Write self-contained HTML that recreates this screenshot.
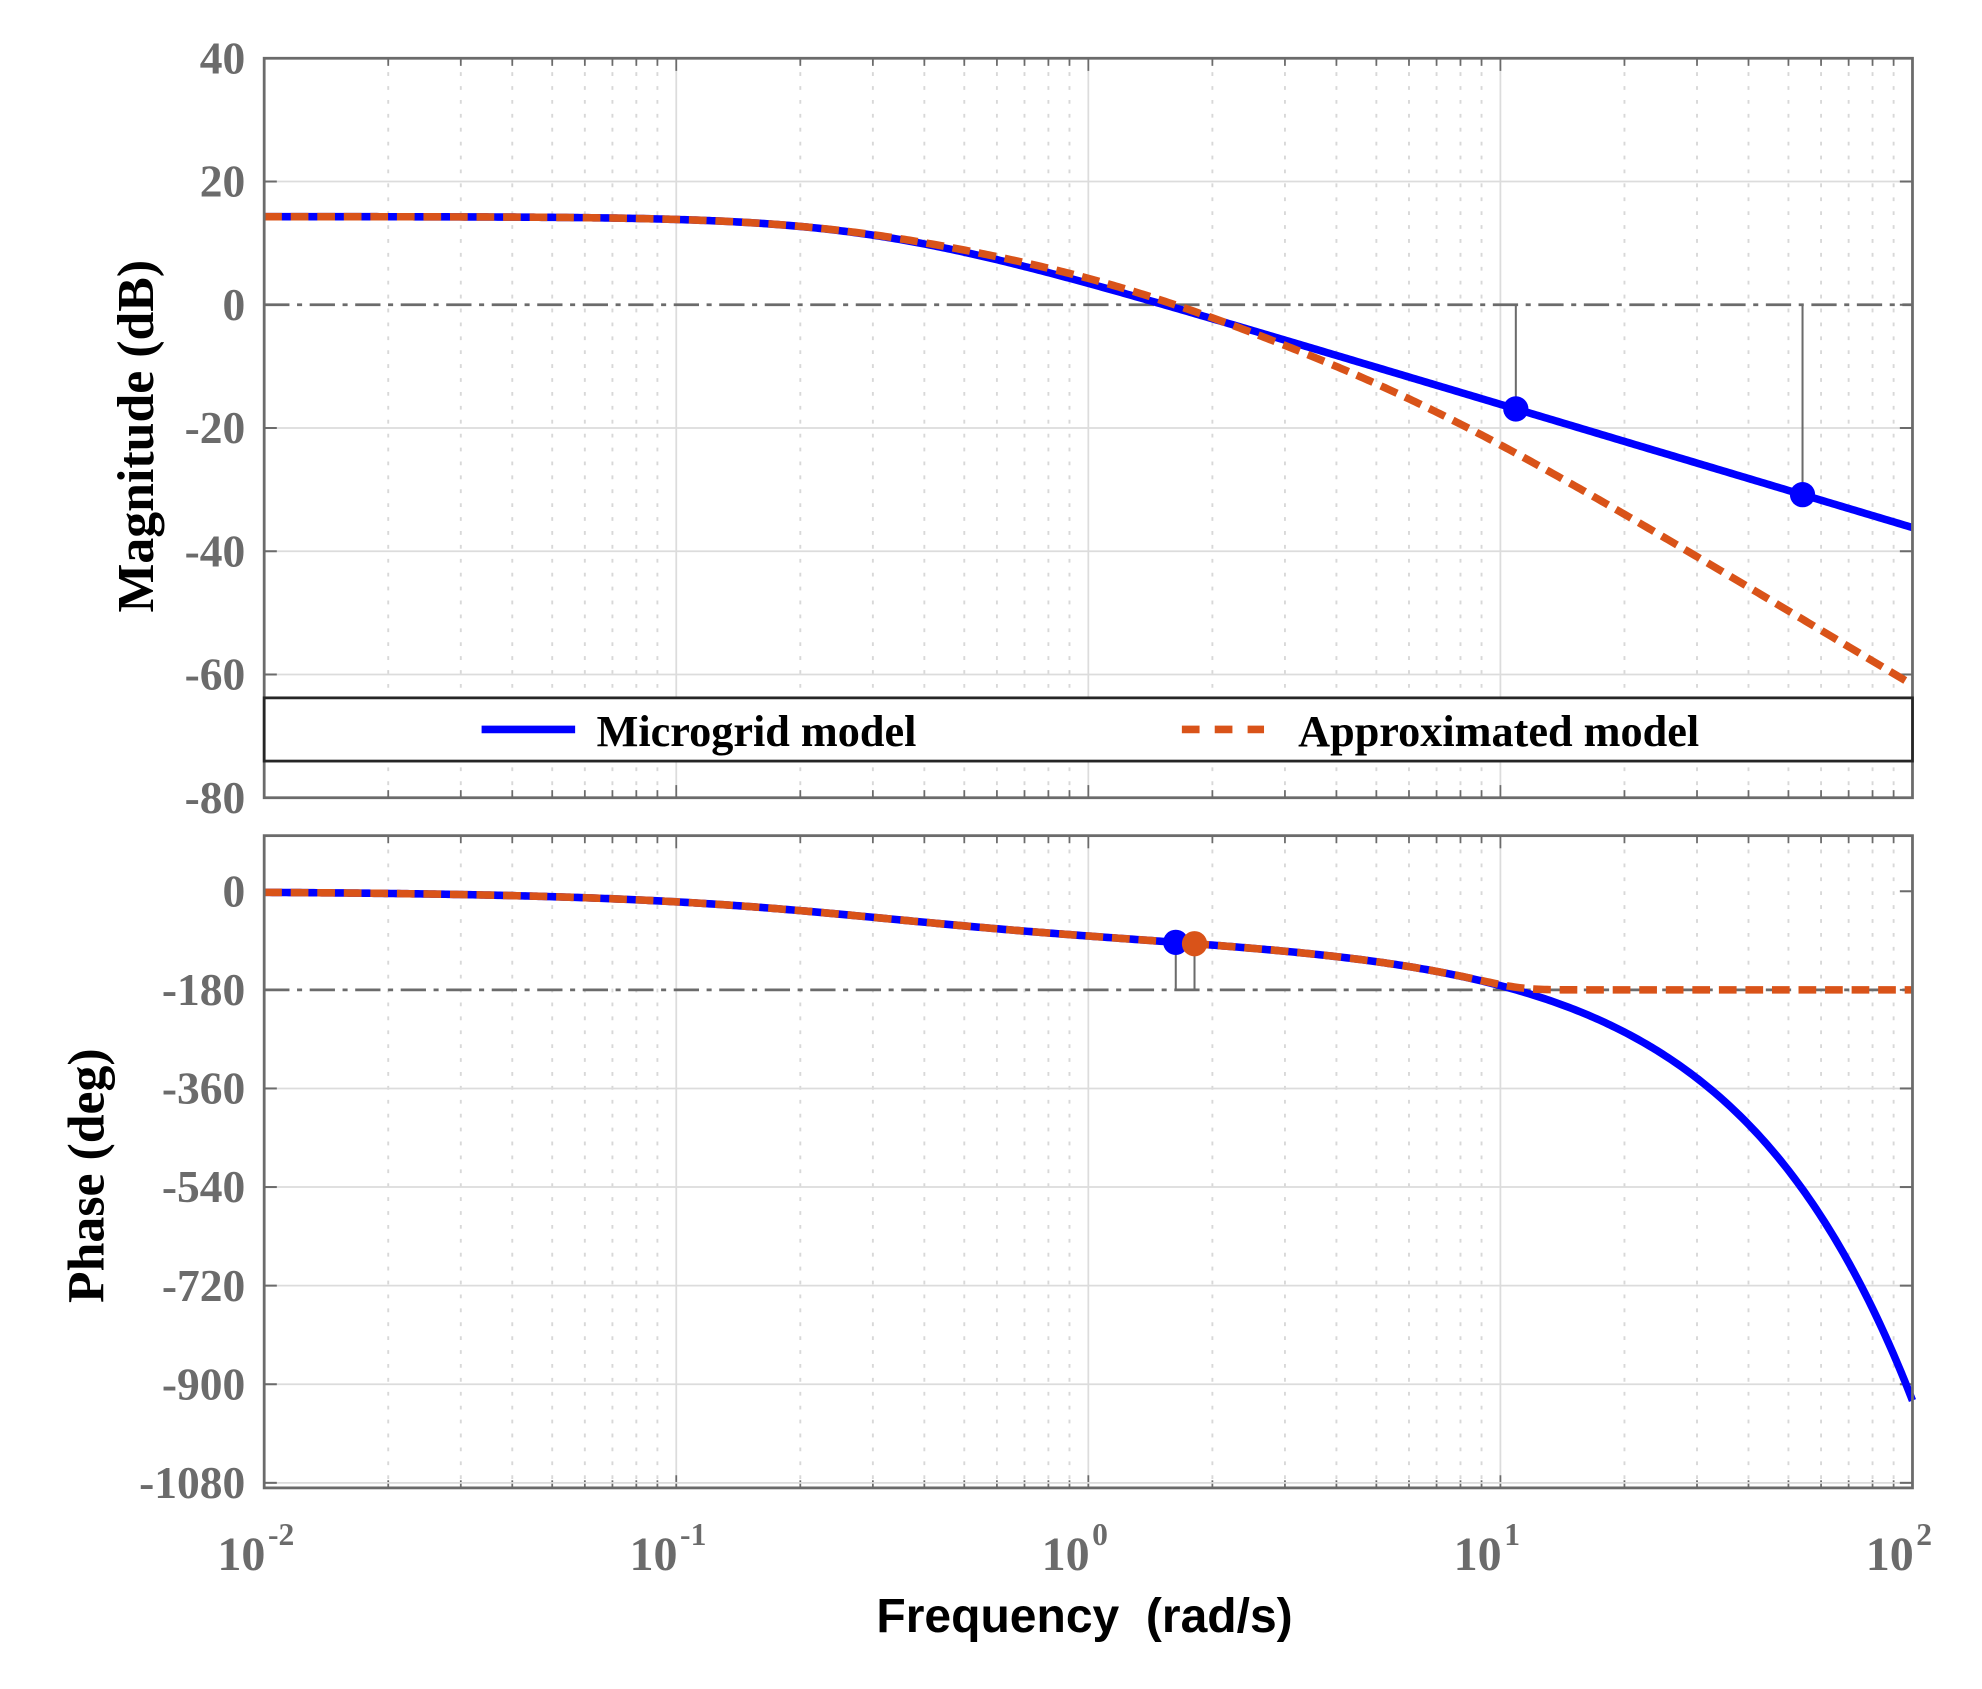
<!DOCTYPE html>
<html><head><meta charset="utf-8">
<style>html,body{margin:0;padding:0;background:#fff;}svg{display:block;}</style>
</head><body>
<svg id="s" width="1982" height="1689" viewBox="0 0 1568 1336" xmlns="http://www.w3.org/2000/svg">
<rect width="1568" height="1336" fill="#fff"/>
<g id="g"></g>
<text x="858" y="1291" text-anchor="middle" style="white-space:pre" font-family="Liberation Sans, sans-serif" font-weight="bold" font-size="38" fill="#000">Frequency  (rad/s)</text>
<text transform="translate(121,345) rotate(-90)" text-anchor="middle" font-family="Liberation Serif, serif" font-weight="bold" font-size="41" fill="#000">Magnitude (dB)</text>
<text transform="translate(82,930) rotate(-90)" text-anchor="middle" font-family="Liberation Serif, serif" font-weight="bold" font-size="41" fill="#000">Phase (deg)</text>
</svg>
<script>
var NS="http://www.w3.org/2000/svg",G=document.getElementById('g');
function el(t,a,txt){var e=document.createElementNS(NS,t);for(var k in a)e.setAttribute(k,a[k]);if(txt!=null)e.textContent=txt;G.appendChild(e);return e;}
var L=209,R=1513;
function X(w){return L+(Math.log10(w)+2)*326;}
function Ym(d){return 241-d*97.5/20;}
function Yp(p){return 705-p*78/180;}
var panels=[[46,631],[661,1177]];
panels.forEach(function(p){
 for(var d=-2;d<2;d++)for(var m=2;m<10;m++){var x=X(m*Math.pow(10,d));
  el('line',{x1:x,x2:x,y1:p[0],y2:p[1],stroke:'#d8d8d8','stroke-width':1.5,'stroke-dasharray':'3,8'});
  el('line',{x1:x,x2:x,y1:p[0],y2:p[0]+6,stroke:'#6b6b6b','stroke-width':1.4});
  el('line',{x1:x,x2:x,y1:p[1],y2:p[1]-6,stroke:'#6b6b6b','stroke-width':1.4});}
 for(var d=-1;d<2;d++){var x=X(Math.pow(10,d));
  el('line',{x1:x,x2:x,y1:p[0],y2:p[1],stroke:'#dcdcdc','stroke-width':1.4});
  el('line',{x1:x,x2:x,y1:p[0],y2:p[0]+10,stroke:'#6b6b6b','stroke-width':1.4});
  el('line',{x1:x,x2:x,y1:p[1],y2:p[1]-10,stroke:'#6b6b6b','stroke-width':1.4});}
});
var TS={'font-family':'Liberation Serif, serif','font-weight':'bold','font-size':36,fill:'#6b6b6b','text-anchor':'end'};
for(var v=40;v>=-80;v-=20){var y=Ym(v);
 if(v!=0&&v!=40&&v!=-80)el('line',{x1:L,x2:R,y1:y,y2:y,stroke:'#dcdcdc','stroke-width':1.4});
 el('line',{x1:L,x2:L+10,y1:y,y2:y,stroke:'#6b6b6b','stroke-width':1.6});
 el('line',{x1:R,x2:R-10,y1:y,y2:y,stroke:'#6b6b6b','stroke-width':1.6});
 el('text',Object.assign({},TS,{x:194,y:y+12}),String(v));}
for(var v=0;v>=-1080;v-=180){var y=Yp(v);
 if(v!=0&&v!=-180)el('line',{x1:L,x2:R,y1:y,y2:y,stroke:'#dcdcdc','stroke-width':1.4});
 el('line',{x1:L,x2:L+10,y1:y,y2:y,stroke:'#6b6b6b','stroke-width':1.6});
 el('line',{x1:R,x2:R-10,y1:y,y2:y,stroke:'#6b6b6b','stroke-width':1.6});
 el('text',Object.assign({},TS,{x:194,y:y+12}),String(v));}
el('line',{x1:L,x2:R,y1:241,y2:241,stroke:'#6b6b6b','stroke-width':2.2,'stroke-dasharray':'20,6,4,6'});
el('line',{x1:L,x2:R,y1:Yp(-180),y2:Yp(-180),stroke:'#6b6b6b','stroke-width':2.2,'stroke-dasharray':'20,6,4,6'});
for(var d=-2;d<=2;d++){var x=X(Math.pow(10,d));
 el('text',{x:x+1,y:1242,'font-family':'Liberation Serif, serif','font-weight':'bold','font-size':38,fill:'#6b6b6b','text-anchor':'end'},'10');
 el('text',{x:x+3,y:1222,'font-family':'Liberation Serif, serif','font-weight':'bold','font-size':25,fill:'#6b6b6b','text-anchor':'start'},String(d));}
var K=5.19,a=0.3,T=0.1466,b=5.3;
function mm(w){return 20*Math.log10(K)-10*Math.log10(1+(w/a)*(w/a));}
function ma(w){return mm(w)-10*Math.log10(1+(w/b)*(w/b))+1.0*Math.exp(-Math.pow(Math.log10(w/1.2),2)/0.15);}
function pm(w){return -(Math.atan(w/a)*180/Math.PI+w*T*180/Math.PI);}
function pa(w){var gg=180+pm(w);var s=7;return -180+s*Math.log(1+Math.exp(gg/s));}
function path(f,Y){var d='';for(var i=0;i<=600;i++){var w=Math.pow(10,-2+4*i/600);d+=(i?'L':'M')+X(w).toFixed(2)+','+Y(f(w)).toFixed(2);}return d;}
[10.9,54.1].forEach(function(q){var x=X(q);el('line',{x1:x,x2:x,y1:241,y2:Ym(mm(q)),stroke:'#6b6b6b','stroke-width':1.6});});
el('line',{x1:X(1.63),x2:X(1.63),y1:Yp(-180),y2:Yp(pm(1.63)),stroke:'#6b6b6b','stroke-width':1.6});
el('line',{x1:X(1.81),x2:X(1.81),y1:Yp(-180),y2:Yp(pa(1.81)),stroke:'#6b6b6b','stroke-width':1.6});
el('path',{d:path(mm,Ym),fill:'none',stroke:'#0000ff','stroke-width':6});
el('path',{d:path(ma,Ym),fill:'none',stroke:'#d95319','stroke-width':6,'stroke-dasharray':'14,7'});
el('path',{d:path(pm,Yp),fill:'none',stroke:'#0000ff','stroke-width':6});
el('path',{d:path(pa,Yp),fill:'none',stroke:'#d95319','stroke-width':6,'stroke-dasharray':'14,7'});
el('circle',{cx:X(10.9),cy:Ym(mm(10.9)),r:10,fill:'#0000ff'});
el('circle',{cx:X(54.1),cy:Ym(mm(54.1)),r:10,fill:'#0000ff'});
el('circle',{cx:X(1.63),cy:Yp(pm(1.63)),r:10,fill:'#0000ff'});
el('circle',{cx:X(1.81),cy:Yp(pa(1.81)),r:10,fill:'#d95319'});
panels.forEach(function(p){el('rect',{x:L,y:p[0],width:R-L,height:p[1]-p[0],fill:'none',stroke:'#6b6b6b','stroke-width':2.2});});
el('rect',{x:L,y:552,width:R-L,height:50,fill:'#fff',stroke:'#262626','stroke-width':2.2});
el('line',{x1:381,x2:455,y1:577,y2:577,stroke:'#0000ff','stroke-width':6});
el('line',{x1:935,x2:1000,y1:577,y2:577,stroke:'#d95319','stroke-width':6,'stroke-dasharray':'14,12'});
el('text',{x:472,y:590,'font-family':'Liberation Serif, serif','font-weight':'bold','font-size':35,fill:'#000'},'Microgrid model');
el('text',{x:1027,y:590,'font-family':'Liberation Serif, serif','font-weight':'bold','font-size':35,fill:'#000'},'Approximated model');
</script>
</body></html>
